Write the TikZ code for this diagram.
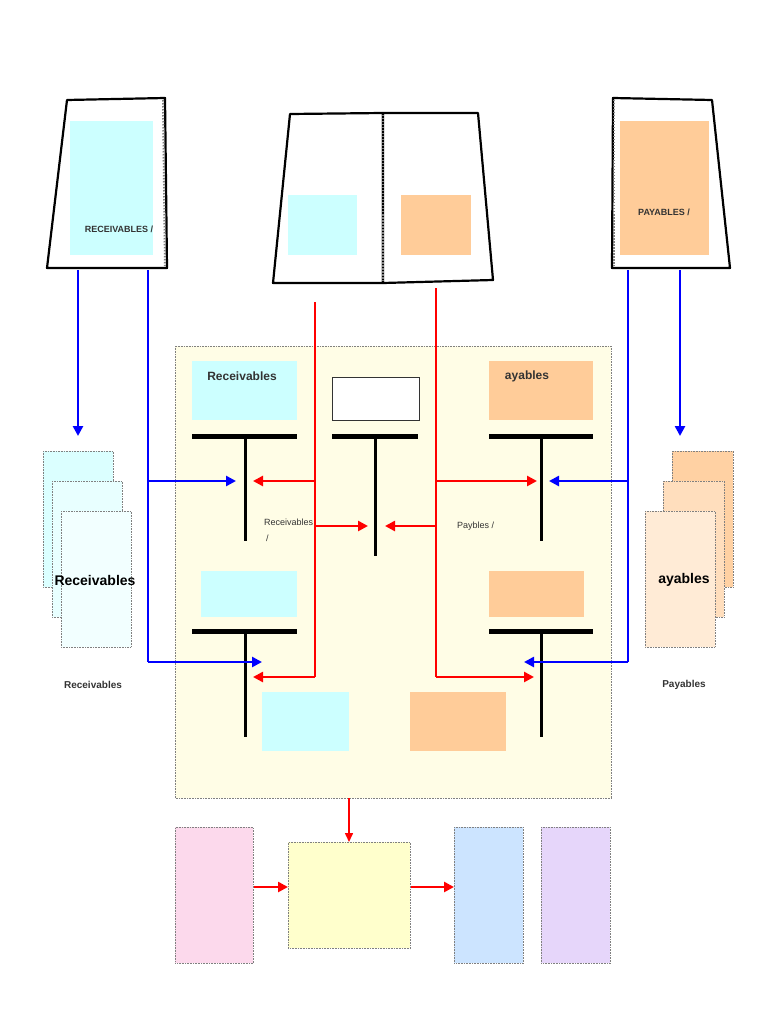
\documentclass[tikz,border=0pt]{standalone}
\usepackage{fontspec}
\setmainfont{Liberation Sans}
\usetikzlibrary{arrows.meta}
\begin{document}
\begin{tikzpicture}[x=1pt,y=-1pt,
  bl/.style={blue,line width=2.5pt,-{Triangle[length=10pt,width=10pt]}},
  rd/.style={red,line width=2.5pt,-{Triangle[length=10pt,width=10pt]}},
  bln/.style={blue,line width=2.5pt},
  rdn/.style={red,line width=2pt},
  book/.style={draw=black,line width=2.2pt,fill=white,line join=round},
  pg/.style={draw=gray,densely dotted,line width=0.6pt},
  tbar/.style={line width=5pt,black},
  tvert/.style={line width=3pt,black},
  lbl/.style={font=\fontsize{10}{11}\selectfont\bfseries,text=black!80,inner sep=0pt},
  box/.style={minimum width=0pt,inner sep=0pt}]
\useasboundingbox (0,0) rectangle (768,1024);
\definecolor{cy}{HTML}{CCFFFF}
\definecolor{or}{HTML}{FFCC99}
\definecolor{ly}{HTML}{FFFDE6}
\definecolor{pk}{HTML}{FCD9EC}
\definecolor{yl}{HTML}{FFFFCC}
\definecolor{bu}{HTML}{CCE4FF}
\definecolor{lv}{HTML}{E6D6FA}
% books
\draw[book] (67,100) -- (165,98) -- (167,268) -- (47,268) -- cycle;
\draw[gray,line width=2pt,dash pattern=on 1.5pt off 1.5pt] (163,100) -- (165,266);
\fill[cy] (70,121) rectangle (153,255);
\node[lbl,font=\fontsize{9}{10}\selectfont\bfseries] (recbook) at (119,229) {RECEIVABLES /};
\draw[book] (290,114) -- (383,113) -- (383,283) -- (273,283) -- cycle;
\draw[book] (383,113) -- (478,113) -- (493,280) -- (383,283) -- cycle;
\draw[gray,line width=2pt,dash pattern=on 1.5pt off 1.5pt] (383,115) -- (383,281);
\fill[cy] (288,195) rectangle (357,255);
\fill[or] (401,195) rectangle (471,255);
\draw[book] (613,98) -- (712,100) -- (730,268) -- (612,268) -- cycle;
\draw[gray,line width=2pt,dash pattern=on 1.5pt off 1.5pt] (614,100) -- (614,266);
\fill[or] (620,121) rectangle (709,255);
\node[lbl,font=\fontsize{9}{10}\selectfont\bfseries] (paybook) at (664,212) {PAYABLES /};
% big box
\draw[pg,fill=ly] (175,346) rectangle (611,798);
\node[box,fill=cy,minimum width=105pt,minimum height=59pt,anchor=north west] (c1) at (192,361) {};
\node[lbl,font=\fontsize{12}{13}\selectfont\bfseries] at (242,376) {Receivables};
\node[box,draw=black!80,line width=1pt,fill=white,minimum width=87pt,minimum height=43pt,anchor=north west] (w1) at (332,377) {};
\node[box,fill=or,minimum width=104pt,minimum height=59pt,anchor=north west] (o1) at (489,361) {};
\node[lbl,font=\fontsize{12}{13}\selectfont\bfseries] at (527,376) {ayables};
\node[box,fill=cy,minimum width=96pt,minimum height=46pt,anchor=north west] (c2) at (201,571) {};
\node[box,fill=or,minimum width=95pt,minimum height=46pt,anchor=north west] (o2) at (489,571) {};
\node[box,fill=cy,minimum width=87pt,minimum height=59pt,anchor=north west] (c3) at (262,692) {};
\node[box,fill=or,minimum width=96pt,minimum height=59pt,anchor=north west] (o3) at (410,692) {};
% T accounts
\draw[tbar] (192,436) -- (297,436); \draw[tvert] (245,436) -- (245,541);
\draw[tbar] (332,436) -- (418,436); \draw[tvert] (375,436) -- (375,556);
\draw[tbar] (489,436) -- (593,436); \draw[tvert] (541,436) -- (541,541);
\draw[tbar] (192,631) -- (297,631); \draw[tvert] (245,631) -- (245,737);
\draw[tbar] (489,631) -- (593,631); \draw[tvert] (541,631) -- (541,737);
\node[lbl,font=\fontsize{9}{10}\selectfont,anchor=west] at (264,522) {Receivables};
\node[lbl,font=\fontsize{9}{10}\selectfont,anchor=west] at (266,538) {/};
\node[lbl,font=\fontsize{9}{10}\selectfont,anchor=west] at (457,526) {Paybles /};
% stacks
\draw[pg,fill=cy!70!white] (43,451) rectangle (113,587);
\draw[pg,fill=cy!45!white] (52,481) rectangle (122,617);
\draw[pg,fill=cy!25!white] (61,511) rectangle (131,647);
\node[lbl,font=\fontsize{14}{15}\selectfont\bfseries,text=black] at (95,580) {Receivables};
\node[lbl] at (93,685) {Receivables};
\draw[pg,fill=or!90!white] (672,451) rectangle (733,587);
\draw[pg,fill=or!65!white] (663,481) rectangle (724,617);
\draw[pg,fill=or!40!white] (645,511) rectangle (715,647);
\node[lbl,font=\fontsize{14}{15}\selectfont\bfseries,text=black] at (684,580) {ayables};
\node[lbl] at (684,685) {Payables};
% blue connectors
\draw[bl] (78,270) -- (78,436);
\draw[bln] (148,270) -- (148,662);
\draw[bl] (148,481) -- (236,481);
\draw[bl] (148,662) -- (262,662);
\draw[bl] (680,270) -- (680,436);
\draw[bln] (628,270) -- (628,662);
\draw[bl] (628,481) -- (549,481);
\draw[bl] (628,662) -- (524,662);
% red connectors
\draw[rdn] (315,302) -- (315,677);
\draw[rd] (315,481) -- (253,481);
\draw[rd] (315,526) -- (368,526);
\draw[rd] (315,677) -- (253,677);
\draw[rdn] (436,288) -- (436,677);
\draw[rd] (436,481) -- (537,481);
\draw[rd] (436,526) -- (385,526);
\draw[rd] (436,677) -- (534,677);
% bottom row
\node[box,pg,fill=pk,minimum width=78pt,minimum height=136pt,anchor=north west] (pkb) at (175,827) {};
\node[box,pg,fill=yl,minimum width=122pt,minimum height=106pt,anchor=north west] (ylb) at (288,842) {};
\node[box,pg,fill=bu,minimum width=69pt,minimum height=136pt,anchor=north west] (bub) at (454,827) {};
\node[box,pg,fill=lv,minimum width=69pt,minimum height=136pt,anchor=north west] (lvb) at (541,827) {};
\draw[red,line width=1.5pt,-{Triangle[length=9pt,width=8pt]}] (349,798) -- (ylb.north -| 349,0);
\draw[rd] (pkb.east |- 0,887) -- (ylb.west |- 0,887);
\draw[rd] (ylb.east |- 0,887) -- (bub.west |- 0,887);
\end{tikzpicture}
\end{document}
